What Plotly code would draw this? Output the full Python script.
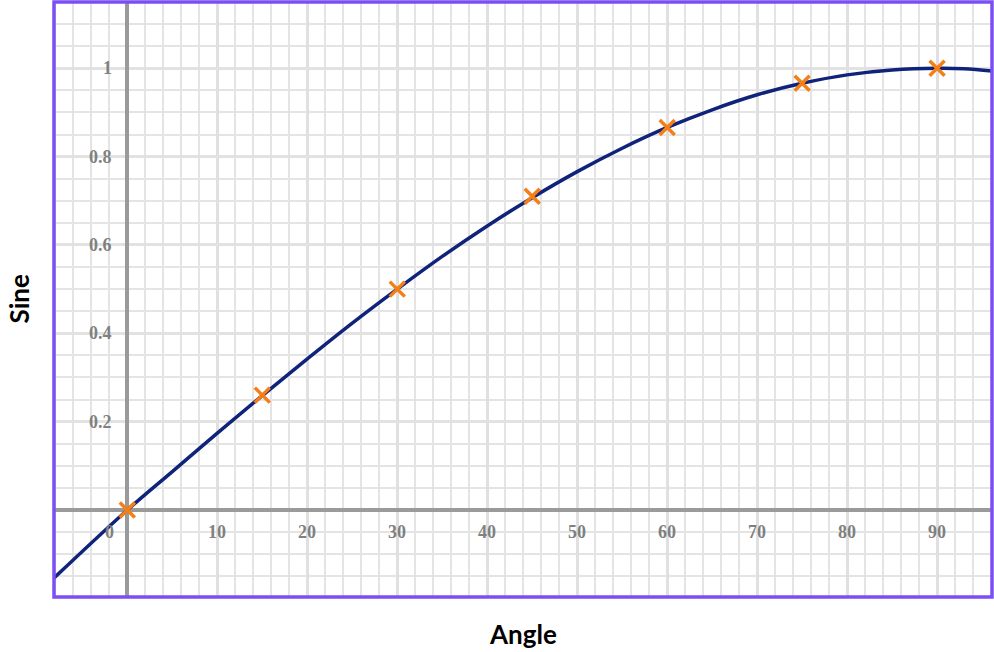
import plotly.graph_objects as go

# curve (angle in degrees, sine)
curve_angle = [-8.2, 0, 5, 10, 15, 20, 25, 30, 35, 40, 45, 50, 55, 60, 65, 70, 75, 80, 85, 90, 93, 96.1]
curve_sine = [-0.155, 0.0, 0.087, 0.174, 0.259, 0.342, 0.423, 0.5, 0.574, 0.643, 0.707,
              0.766, 0.819, 0.866, 0.906, 0.94, 0.966, 0.985, 0.996, 1.0, 0.999, 0.994]

# plotted points (crosses)
point_angle = [0, 15, 30, 45, 60, 75, 90]
point_sine = [0.0, 0.26, 0.5, 0.71, 0.866, 0.966, 1.0]

# tick labels
x_ticks = [0, 10, 20, 30, 40, 50, 60, 70, 80, 90]
x_tick_text = ["0", "10", "20", "30", "40", "50", "60", "70", "80", "90"]
y_ticks = [0.2, 0.4, 0.6, 0.8, 1]
y_tick_text = ["0.2", "0.4", "0.6", "0.8", "1"]

X_RANGE = [-8.15, 96.1]
Y_RANGE = [-0.197, 1.15]
tick_font = dict(family="Liberation Serif", size=18, color="#808080")
title_font = dict(family="Lato", size=26, color="black")

fig = go.Figure()

fig.add_trace(go.Scatter(
    x=curve_angle, y=curve_sine, mode="lines",
    line=dict(color="#0f237a", width=3.5, shape="spline"),
    hoverinfo="skip", showlegend=False,
))
fig.add_trace(go.Scatter(
    x=point_angle, y=point_sine, mode="markers",
    marker=dict(symbol="x-thin", size=15, line=dict(color="#f57f17", width=3.5)),
    showlegend=False,
))

# tick labels drawn next to the zero axes
for v, t in zip(x_ticks, x_tick_text):
    fig.add_annotation(
        x=v - 2 if v == 0 else v, y=0, text="<b>" + t + "</b>", showarrow=False,
        yshift=-22, font=tick_font, xanchor="center", yanchor="middle",
    )
for v, t in zip(y_ticks, y_tick_text):
    fig.add_annotation(
        x=0, y=v, text="<b>" + t + "</b>", showarrow=False,
        xshift=-13, font=tick_font, xanchor="right", yanchor="middle",
    )

# axis titles
fig.add_annotation(x=0.5, y=0, xref="paper", yref="paper", yshift=-37,
                   text="<b>Angle</b>", showarrow=False, font=title_font, yanchor="middle")
fig.add_annotation(x=0, y=0.5, xref="paper", yref="paper", xshift=-36,
                   text="<b>Sine</b>", showarrow=False, font=title_font, textangle=-90,
                   xanchor="center")

# purple frame around the plot area
fig.add_shape(type="rect", xref="paper", yref="paper", x0=0, y0=0, x1=1, y1=1,
              line=dict(color="#7b4ff5", width=3.5), layer="above")

grid_minor = dict(showgrid=True, gridcolor="#e4e4e4", gridwidth=2)

fig.update_layout(
    width=994, height=652,
    margin=dict(l=54, r=2, t=2, b=55, autoexpand=False),
    paper_bgcolor="white", plot_bgcolor="white",
    xaxis=dict(
        range=X_RANGE, tickmode="linear", tick0=0, dtick=10,
        showticklabels=False, showgrid=True, gridcolor="#e0e0e0", gridwidth=3,
        zeroline=True, zerolinecolor="#9a9a9a", zerolinewidth=3.5,
        minor=dict(dtick=2, tick0=0, **grid_minor),
        automargin=False, fixedrange=True,
    ),
    yaxis=dict(
        range=Y_RANGE, tickmode="linear", tick0=0, dtick=0.2,
        showticklabels=False, showgrid=True, gridcolor="#e2e2e2", gridwidth=2.5,
        zeroline=True, zerolinecolor="#9a9a9a", zerolinewidth=3.5,
        minor=dict(dtick=0.05, tick0=0, **grid_minor),
        automargin=False, fixedrange=True,
    ),
)

# drop the page's default body margin so the figure sits at the window corner
fig.write_html("out.html", config={"displayModeBar": False},
               post_script="document.body.style.margin='0';document.body.style.overflow='hidden';")
